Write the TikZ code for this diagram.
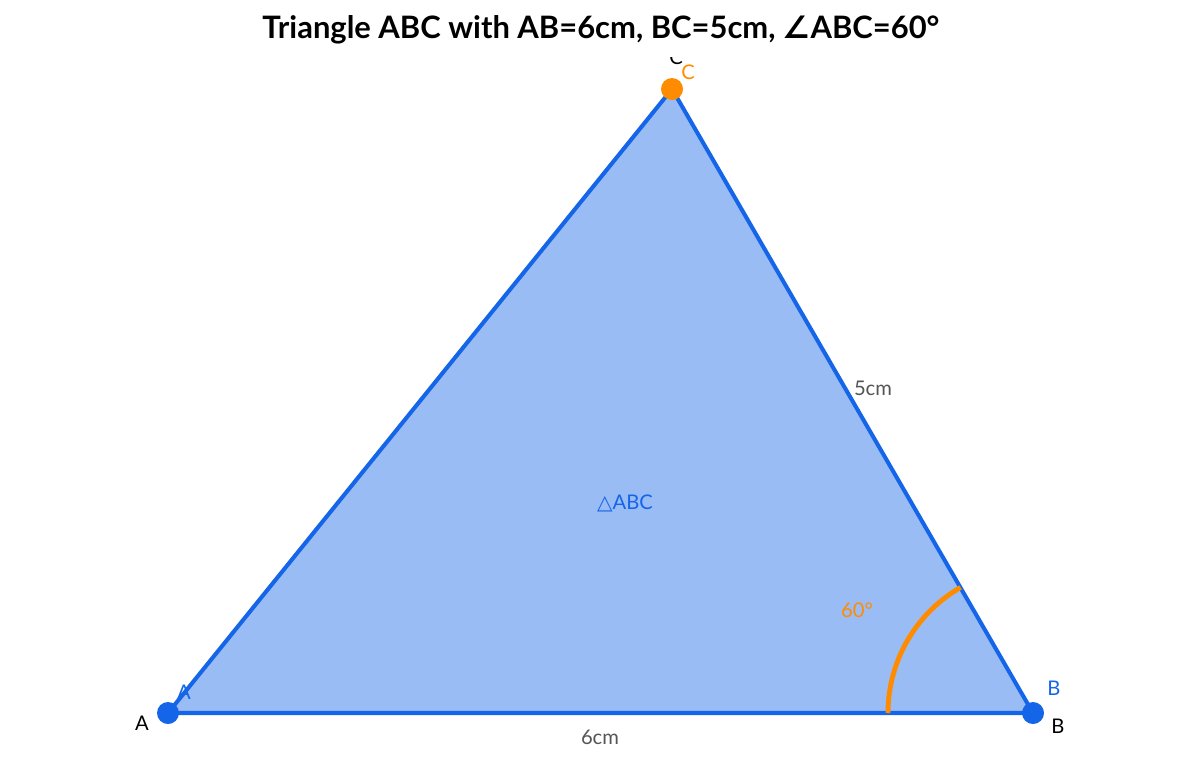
\documentclass[tikz,border=0pt]{standalone}
\usepackage{fontspec}
\setmainfont{Lato}
\newfontfamily\symfont{DejaVu Sans}
\definecolor{edgeblue}{HTML}{1565E8}
\definecolor{fillblue}{HTML}{9ABCF5}
\definecolor{angleorange}{HTML}{FF8C00}
\definecolor{labelgray}{HTML}{555555}
\tikzset{
  edge/.style={draw=edgeblue,line width=2.3pt,line join=round},
  vertexdot/.style={circle,fill=#1,inner sep=0pt,minimum size=0.44cm},
  lbl/.style={font=\fontsize{11.5}{13}\selectfont,inner sep=0pt}
}
\begin{document}
\begin{tikzpicture}[x=0.02cm,y=-0.02cm]
\useasboundingbox (0,0) rectangle (1200,762);
\coordinate (A) at (168,713);
\coordinate (B) at (1033,713);
\coordinate (C) at (672,89);
\coordinate (arcstart) at (888,713);
\node[font=\bfseries\fontsize{17.6}{20}\selectfont] (title) at (601,30) {Triangle ABC with AB=6cm, BC=5cm, {\symfont ∠}ABC=60°};
\fill[fillblue] (A) -- (B) -- (C) -- cycle;
\node[lbl,text=edgeblue] (Ablue) at (184,692) {A};
\draw[edge] (A) -- (B) -- (C) -- cycle;
\draw[angleorange,line width=2.8pt] (arcstart) arc[start angle=180,end angle=240,radius=145];
\begin{scope}
\clip (0,57) rectangle (1200,762);
\node[lbl] (Cblack) at (676,57) {C};
\end{scope}
\node[vertexdot=edgeblue] (dotA) at (A) {};
\node[vertexdot=edgeblue] (dotB) at (B) {};
\node[vertexdot=angleorange] (dotC) at (C) {};
\node[lbl] (Alabel) at (142,723) {A};
\node[lbl] (Blabel) at (1058,726) {B};
\node[lbl,text=edgeblue] (Bblue) at (1054,688) {B};
\node[lbl,text=angleorange] (Corange) at (688,72) {C};
\node[lbl,text=labelgray] (bc) at (873,388) {5cm};
\node[lbl,text=labelgray] (ab) at (600,737) {6cm};
\node[lbl,text=angleorange] (ang) at (857,610) {60°};
\node[lbl,text=edgeblue] (tri) at (625,503) {{\symfont △}ABC};
\end{tikzpicture}
\end{document}
